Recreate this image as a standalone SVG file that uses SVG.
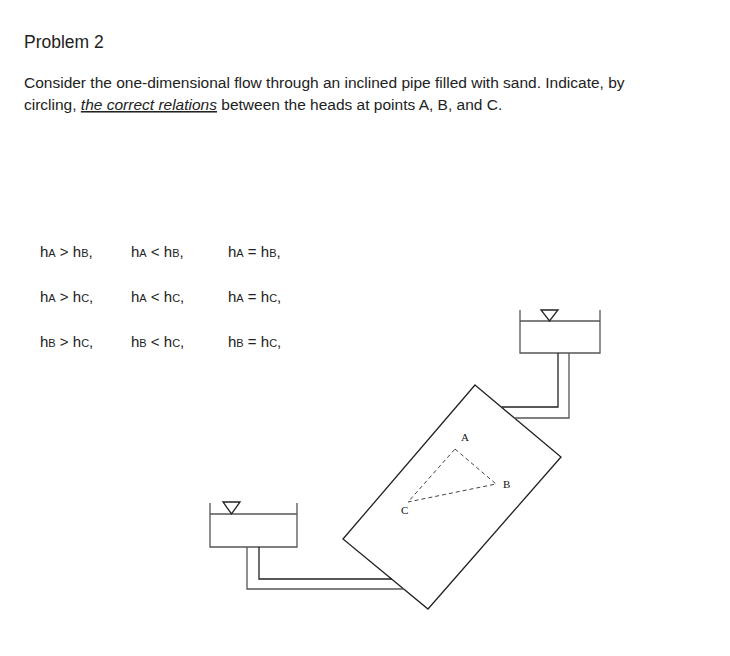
<svg xmlns="http://www.w3.org/2000/svg" width="730" height="656" viewBox="0 0 730 656">
<style>
.t{font-family:"Liberation Sans",Arial,sans-serif;fill:#222}
.r{font-family:"Liberation Sans",Arial,sans-serif;font-size:15px;fill:#222}
.s{font-size:11px}
.l{font-family:"Liberation Serif","Times New Roman",serif;font-size:11px;fill:#111}
.k{fill:none;stroke:#222;stroke-width:1.3}
.g{fill:none;stroke:#555;stroke-width:1.3}
.d{fill:none;stroke:#444;stroke-width:1;stroke-dasharray:4 3}
</style>
<rect width="730" height="656" fill="#fff"/>
<text class="t" x="24" y="48" font-size="17.5">Problem 2</text>
<text class="t" x="24" y="88" font-size="15.5">Consider the one-dimensional flow through an inclined pipe filled with sand. Indicate, by</text>
<text class="t" x="24" y="110" font-size="15.5">circling, <tspan text-decoration="underline" font-style="italic">the correct relations</tspan> between the heads at points A, B, and C.</text>
<g id="relations">
<text class="r" x="40" y="257">h<tspan class="s">A</tspan> &gt; h<tspan class="s">B</tspan>,</text>
<text class="r" x="131" y="257">h<tspan class="s">A</tspan> &lt; h<tspan class="s">B</tspan>,</text>
<text class="r" x="228" y="257">h<tspan class="s">A</tspan> = h<tspan class="s">B</tspan>,</text>
<text class="r" x="40" y="302">h<tspan class="s">A</tspan> &gt; h<tspan class="s">C</tspan>,</text>
<text class="r" x="131" y="302">h<tspan class="s">A</tspan> &lt; h<tspan class="s">C</tspan>,</text>
<text class="r" x="228" y="302">h<tspan class="s">A</tspan> = h<tspan class="s">C</tspan>,</text>
<text class="r" x="40" y="347">h<tspan class="s">B</tspan> &gt; h<tspan class="s">C</tspan>,</text>
<text class="r" x="131" y="347">h<tspan class="s">B</tspan> &lt; h<tspan class="s">C</tspan>,</text>
<text class="r" x="228" y="347">h<tspan class="s">B</tspan> = h<tspan class="s">C</tspan>,</text>
</g>
<g id="upper-tank">
<path class="g" d="M520 310 V353 H600 V310 M520 321 H600"/>
<path class="k" d="M541 310 H558 L549.5 321 Z" stroke-width="1"/>
</g>
<g id="lower-tank">
<path class="g" d="M210 503 V547 H297 V503 M210 514 H297"/>
<path class="k" d="M223 502 H240 L231.5 514 Z" stroke-width="1"/>
</g>
<g id="sand-column">
<path class="k" d="M475 385 L561 457 L428 609 L343 539 Z"/>
</g>
<g id="connectors">
<path class="k" d="M558 353 V407 H502"/>
<path class="g" d="M569 353 V418 H514"/>
<path class="k" d="M259 547 V579 H392"/>
<path class="g" d="M247 547 V589 H404"/>
<path class="d" d="M455 449 L496 484 L408 502 Z"/>
</g>
<g id="labels">
<text class="l" x="461" y="441">A</text>
<text class="l" x="503" y="488">B</text>
<text class="l" x="401" y="514">C</text>
</g>
</svg>
